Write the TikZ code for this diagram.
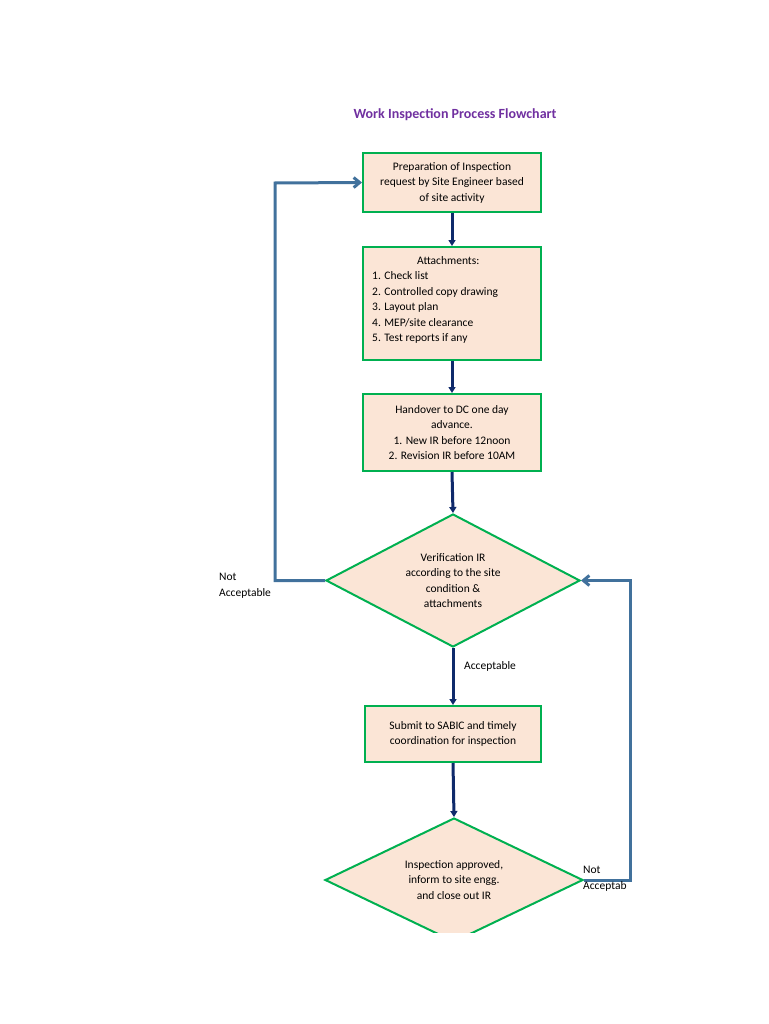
\documentclass[tikz,border=0pt]{standalone}
\usepackage{fontspec}
\setmainfont{Carlito}
\usetikzlibrary{shapes.geometric,arrows.meta}
\definecolor{fillc}{HTML}{FBE5D6}
\definecolor{gr}{HTML}{00B050}
\definecolor{navy}{HTML}{0F2A6B}
\definecolor{steel}{HTML}{41719C}
\definecolor{purp}{HTML}{7030A0}
\begin{document}
\begin{tikzpicture}[x=1pt,y=-1pt,
  box/.style={draw=gr,line width=2pt,fill=fillc,font=\fontsize{11.5}{15.5}\selectfont,inner sep=0pt},
  dia/.style={diamond,draw=gr,line width=2pt,fill=fillc,font=\fontsize{11.5}{15.5}\selectfont,inner sep=0pt,align=center},
  down/.style={navy,line width=3pt,-{Triangle[length=6pt,width=7pt]}},
  loop/.style={steel,line width=3pt,-{Straight Barb[length=6pt,width=10pt]}},
  lbl/.style={font=\fontsize{11.5}{15.5}\selectfont,align=left,inner sep=0pt}]
\useasboundingbox (0,0) rectangle (768,1024);
\node[font=\fontsize{14}{16}\selectfont\bfseries,text=purp] (t) at (455,115) {Work Inspection Process Flowchart};
\node[box,minimum width=178pt,minimum height=59pt,align=center] (b1) at (452,182.5) {Preparation of Inspection\\request by Site Engineer based\\of site activity};
\node[box,minimum width=178pt,minimum height=113pt] (b2) at (452,303.5) {};
\node[lbl,anchor=north west] (b2t) at (372,256) {\hspace*{45pt}Attachments:\\1. Check list\\2. Controlled copy drawing\\3. Layout plan\\4. MEP/site clearance\\5. Test reports if any};
\node[box,minimum width=178pt,minimum height=77pt,align=center] (b3) at (452,432.5) {Handover to DC one day\\advance.\\1. New IR before 12noon\\2. Revision IR before 10AM};
\node[dia,minimum width=254pt,minimum height=133pt,aspect=1.9] (d1) at (453,580.5) {Verification IR\\according to the site\\condition \&\\attachments};
\node[box,minimum width=176pt,minimum height=56pt,align=center] (b4) at (453,734) {Submit to SABIC and timely\\coordination for inspection};
\begin{scope}
\clip (0,0) rectangle (768,932);
\node[dia,minimum width=258pt,minimum height=124pt,aspect=2.08] (d2) at (454,880) {Inspection approved,\\inform to site engg.\\and close out IR};
\end{scope}
\draw[down] (b1.south) -- (b2.north);
\draw[down] (b2.south) -- (b3.north);
\draw[down] (b3.south) -- (d1.north);
\draw[down] (d1.south) -- (b4.north);
\draw[down] (b4.south) -- (d2.north);
\coordinate (l1) at (275,580.5);
\coordinate (l2) at (275,183);
\draw[loop] (d1.west) -- (l1) -- (l2) -- (b1.west);
\coordinate (r1) at (630,880);
\coordinate (r2) at (630,580.5);
\draw[loop] (d2.east) -- (r1) -- (r2) -- (d1.east);
\node[lbl,anchor=north west] (na1) at (219,573) {Not\\Acceptable};
\node[lbl,anchor=west] (acc) at (464,666) {Acceptable};
\node[lbl,anchor=north west] (na2) at (583,866) {Not\\Acceptab};
\end{tikzpicture}
\end{document}
